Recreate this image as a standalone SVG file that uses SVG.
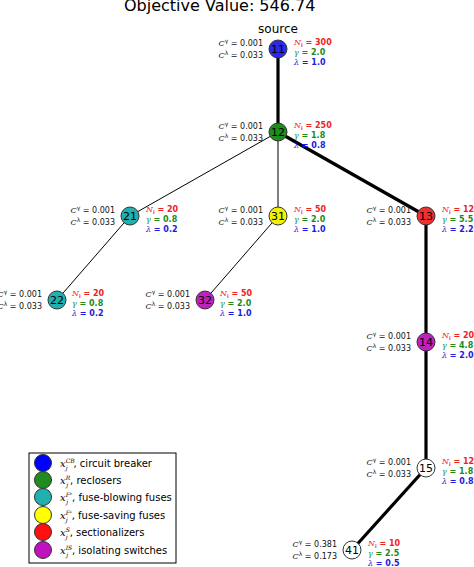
<svg xmlns="http://www.w3.org/2000/svg" width="474" height="567" viewBox="0 0 474 567">
<style>
.bg{fill:#ffffff}
.thick{stroke:#000;stroke-width:3.2;fill:none}
.thin{stroke:#000;stroke-width:1;fill:none}
.node{stroke:#333;stroke-width:1}
.nid{font-family:"DejaVu Sans",sans-serif;font-size:11px;text-anchor:middle;fill:#000}
.lt{font-family:"DejaVu Sans",sans-serif;font-size:8px;text-anchor:end;fill:#111}
.rt{font-family:"DejaVu Sans",sans-serif;font-size:8px;font-weight:bold}
.it{font-family:"DejaVu Serif",serif;font-style:italic;font-weight:normal}
.r{fill:#ee2222}.g{fill:#1a8a1a}.b{fill:#1a1ae0}
.title{font-family:"DejaVu Sans",sans-serif;font-size:16px;fill:#000}
.src{font-family:"DejaVu Sans",sans-serif;font-size:12px;text-anchor:middle;fill:#000}
.leg{font-family:"DejaVu Sans",sans-serif;font-size:10px;fill:#000}
</style>
<rect class="bg" x="0" y="0" width="474" height="567"/>
<text class="title" x="124" y="11">Objective Value: 546.74</text>
<text class="src" x="278" y="33">source</text>
<g id="connectors">
<line class="thick" x1="278" y1="49" x2="278" y2="132"/>
<line class="thin" x1="278" y1="132" x2="130" y2="216"/>
<line class="thin" x1="278" y1="132" x2="278" y2="216"/>
<line class="thick" x1="278" y1="132" x2="426" y2="216"/>
<line class="thin" x1="130" y1="216" x2="57" y2="300"/>
<line class="thin" x1="278" y1="216" x2="205" y2="300"/>
<line class="thick" x1="426" y1="216" x2="426" y2="342"/>
<line class="thick" x1="426" y1="342" x2="426" y2="468"/>
<line class="thick" x1="426" y1="468" x2="352" y2="550"/>
</g>
<g id="n11">
<circle class="node" cx="278" cy="49" r="9" fill="#2a2ae8"/>
<text class="nid" x="278" y="53">11</text>
<text class="lt" x="263" y="46"><tspan class="it">C</tspan><tspan font-size="6" dy="-3">γ</tspan><tspan dy="3"> = 0.001</tspan></text>
<text class="lt" x="263" y="58"><tspan class="it">C</tspan><tspan font-size="6" dy="-3">λ</tspan><tspan dy="3"> = 0.033</tspan></text>
<text class="rt r" x="294" y="45"><tspan class="it">N</tspan><tspan font-size="5" dy="2">i</tspan><tspan dy="-2"> = 300</tspan></text>
<text class="rt g" x="294" y="55"><tspan class="it">γ</tspan> = 2.0</text>
<text class="rt b" x="294" y="65"><tspan class="it">λ</tspan> = 1.0</text>
</g>
<g id="n12">
<circle class="node" cx="278" cy="132" r="9" fill="#1e8c1e"/>
<text class="nid" x="278" y="136">12</text>
<text class="lt" x="263" y="129"><tspan class="it">C</tspan><tspan font-size="6" dy="-3">γ</tspan><tspan dy="3"> = 0.001</tspan></text>
<text class="lt" x="263" y="141"><tspan class="it">C</tspan><tspan font-size="6" dy="-3">λ</tspan><tspan dy="3"> = 0.033</tspan></text>
<text class="rt r" x="294" y="128"><tspan class="it">N</tspan><tspan font-size="5" dy="2">i</tspan><tspan dy="-2"> = 250</tspan></text>
<text class="rt g" x="294" y="138"><tspan class="it">γ</tspan> = 1.8</text>
<text class="rt b" x="294" y="148"><tspan class="it">λ</tspan> = 0.8</text>
</g>
<g id="n21">
<circle class="node" cx="130" cy="216" r="9" fill="#20b0b0"/>
<text class="nid" x="130" y="220">21</text>
<text class="lt" x="115" y="213"><tspan class="it">C</tspan><tspan font-size="6" dy="-3">γ</tspan><tspan dy="3"> = 0.001</tspan></text>
<text class="lt" x="115" y="225"><tspan class="it">C</tspan><tspan font-size="6" dy="-3">λ</tspan><tspan dy="3"> = 0.033</tspan></text>
<text class="rt r" x="146" y="212"><tspan class="it">N</tspan><tspan font-size="5" dy="2">i</tspan><tspan dy="-2"> = 20</tspan></text>
<text class="rt g" x="146" y="222"><tspan class="it">γ</tspan> = 0.8</text>
<text class="rt b" x="146" y="232"><tspan class="it">λ</tspan> = 0.2</text>
</g>
<g id="n31">
<circle class="node" cx="278" cy="216" r="9" fill="#f2f200"/>
<text class="nid" x="278" y="220">31</text>
<text class="lt" x="263" y="213"><tspan class="it">C</tspan><tspan font-size="6" dy="-3">γ</tspan><tspan dy="3"> = 0.001</tspan></text>
<text class="lt" x="263" y="225"><tspan class="it">C</tspan><tspan font-size="6" dy="-3">λ</tspan><tspan dy="3"> = 0.033</tspan></text>
<text class="rt r" x="294" y="212"><tspan class="it">N</tspan><tspan font-size="5" dy="2">i</tspan><tspan dy="-2"> = 50</tspan></text>
<text class="rt g" x="294" y="222"><tspan class="it">γ</tspan> = 2.0</text>
<text class="rt b" x="294" y="232"><tspan class="it">λ</tspan> = 1.0</text>
</g>
<g id="n13">
<circle class="node" cx="426" cy="216" r="9" fill="#ee3030"/>
<text class="nid" x="426" y="220">13</text>
<text class="lt" x="411" y="213"><tspan class="it">C</tspan><tspan font-size="6" dy="-3">γ</tspan><tspan dy="3"> = 0.001</tspan></text>
<text class="lt" x="411" y="225"><tspan class="it">C</tspan><tspan font-size="6" dy="-3">λ</tspan><tspan dy="3"> = 0.033</tspan></text>
<text class="rt r" x="442" y="212"><tspan class="it">N</tspan><tspan font-size="5" dy="2">i</tspan><tspan dy="-2"> = 125</tspan></text>
<text class="rt g" x="442" y="222"><tspan class="it">γ</tspan> = 5.5</text>
<text class="rt b" x="442" y="232"><tspan class="it">λ</tspan> = 2.2</text>
</g>
<g id="n22">
<circle class="node" cx="57" cy="300" r="9" fill="#20b0b0"/>
<text class="nid" x="57" y="304">22</text>
<text class="lt" x="42" y="297"><tspan class="it">C</tspan><tspan font-size="6" dy="-3">γ</tspan><tspan dy="3"> = 0.001</tspan></text>
<text class="lt" x="42" y="309"><tspan class="it">C</tspan><tspan font-size="6" dy="-3">λ</tspan><tspan dy="3"> = 0.033</tspan></text>
<text class="rt r" x="72" y="296"><tspan class="it">N</tspan><tspan font-size="5" dy="2">i</tspan><tspan dy="-2"> = 20</tspan></text>
<text class="rt g" x="72" y="306"><tspan class="it">γ</tspan> = 0.8</text>
<text class="rt b" x="72" y="316"><tspan class="it">λ</tspan> = 0.2</text>
</g>
<g id="n32">
<circle class="node" cx="205" cy="300" r="9" fill="#c020c0"/>
<text class="nid" x="205" y="304">32</text>
<text class="lt" x="190" y="297"><tspan class="it">C</tspan><tspan font-size="6" dy="-3">γ</tspan><tspan dy="3"> = 0.001</tspan></text>
<text class="lt" x="190" y="309"><tspan class="it">C</tspan><tspan font-size="6" dy="-3">λ</tspan><tspan dy="3"> = 0.033</tspan></text>
<text class="rt r" x="220" y="296"><tspan class="it">N</tspan><tspan font-size="5" dy="2">i</tspan><tspan dy="-2"> = 50</tspan></text>
<text class="rt g" x="220" y="306"><tspan class="it">γ</tspan> = 2.0</text>
<text class="rt b" x="220" y="316"><tspan class="it">λ</tspan> = 1.0</text>
</g>
<g id="n14">
<circle class="node" cx="426" cy="342" r="9" fill="#c020c0"/>
<text class="nid" x="426" y="346">14</text>
<text class="lt" x="411" y="339"><tspan class="it">C</tspan><tspan font-size="6" dy="-3">γ</tspan><tspan dy="3"> = 0.001</tspan></text>
<text class="lt" x="411" y="351"><tspan class="it">C</tspan><tspan font-size="6" dy="-3">λ</tspan><tspan dy="3"> = 0.033</tspan></text>
<text class="rt r" x="442" y="338"><tspan class="it">N</tspan><tspan font-size="5" dy="2">i</tspan><tspan dy="-2"> = 200</tspan></text>
<text class="rt g" x="442" y="348"><tspan class="it">γ</tspan> = 4.8</text>
<text class="rt b" x="442" y="358"><tspan class="it">λ</tspan> = 2.0</text>
</g>
<g id="n15">
<circle class="node" cx="426" cy="468" r="9" fill="#ffffff"/>
<text class="nid" x="426" y="472">15</text>
<text class="lt" x="411" y="465"><tspan class="it">C</tspan><tspan font-size="6" dy="-3">γ</tspan><tspan dy="3"> = 0.001</tspan></text>
<text class="lt" x="411" y="477"><tspan class="it">C</tspan><tspan font-size="6" dy="-3">λ</tspan><tspan dy="3"> = 0.033</tspan></text>
<text class="rt r" x="442" y="464"><tspan class="it">N</tspan><tspan font-size="5" dy="2">i</tspan><tspan dy="-2"> = 125</tspan></text>
<text class="rt g" x="442" y="474"><tspan class="it">γ</tspan> = 1.8</text>
<text class="rt b" x="442" y="484"><tspan class="it">λ</tspan> = 0.8</text>
</g>
<g id="n41">
<circle class="node" cx="352" cy="550" r="9" fill="#ffffff"/>
<text class="nid" x="352" y="554">41</text>
<text class="lt" x="337" y="547"><tspan class="it">C</tspan><tspan font-size="6" dy="-3">γ</tspan><tspan dy="3"> = 0.381</tspan></text>
<text class="lt" x="337" y="559"><tspan class="it">C</tspan><tspan font-size="6" dy="-3">λ</tspan><tspan dy="3"> = 0.173</tspan></text>
<text class="rt r" x="368" y="546"><tspan class="it">N</tspan><tspan font-size="5" dy="2">i</tspan><tspan dy="-2"> = 10</tspan></text>
<text class="rt g" x="368" y="556"><tspan class="it">γ</tspan> = 2.5</text>
<text class="rt b" x="368" y="566"><tspan class="it">λ</tspan> = 0.5</text>
</g>
<g id="legend">
<rect x="29" y="453" width="147" height="110" fill="#fff" stroke="#000" stroke-width="1"/>
<circle class="node" cx="43" cy="463" r="8.5" fill="#0000ff"/>
<circle class="node" cx="43" cy="480" r="8.5" fill="#1e8c1e"/>
<circle class="node" cx="43" cy="497" r="8.5" fill="#20b0b0"/>
<circle class="node" cx="43" cy="515" r="8.5" fill="#ffff00"/>
<circle class="node" cx="43" cy="532" r="8.5" fill="#ff1010"/>
<circle class="node" cx="43" cy="550" r="8.5" fill="#c010c0"/>
<text class="leg" x="60" y="467"><tspan class="it">x</tspan><tspan font-size="6" dy="-4" class="it">CB</tspan><tspan font-size="6" dx="-9" dy="7" class="it">j</tspan><tspan dx="6" dy="-3">, circuit breaker</tspan></text>
<text class="leg" x="60" y="484"><tspan class="it">x</tspan><tspan font-size="6" dy="-4" class="it">R</tspan><tspan font-size="6" dx="-4" dy="7" class="it">j</tspan><tspan dx="2" dy="-3">, reclosers</tspan></text>
<text class="leg" x="60" y="501"><tspan class="it">x</tspan><tspan font-size="6" dy="-4" class="it">Fᵇ</tspan><tspan font-size="6" dx="-6" dy="7" class="it">j</tspan><tspan dx="4" dy="-3">, fuse-blowing fuses</tspan></text>
<text class="leg" x="60" y="519"><tspan class="it">x</tspan><tspan font-size="6" dy="-4" class="it">Fˢ</tspan><tspan font-size="6" dx="-6" dy="7" class="it">j</tspan><tspan dx="4" dy="-3">, fuse-saving fuses</tspan></text>
<text class="leg" x="60" y="536"><tspan class="it">x</tspan><tspan font-size="6" dy="-4" class="it">S</tspan><tspan font-size="6" dx="-4" dy="7" class="it">j</tspan><tspan dx="2" dy="-3">, sectionalizers</tspan></text>
<text class="leg" x="60" y="554"><tspan class="it">x</tspan><tspan font-size="6" dy="-4" class="it">IS</tspan><tspan font-size="6" dx="-6" dy="7" class="it">j</tspan><tspan dx="4" dy="-3">, isolating switches</tspan></text>
</g>
</svg>
